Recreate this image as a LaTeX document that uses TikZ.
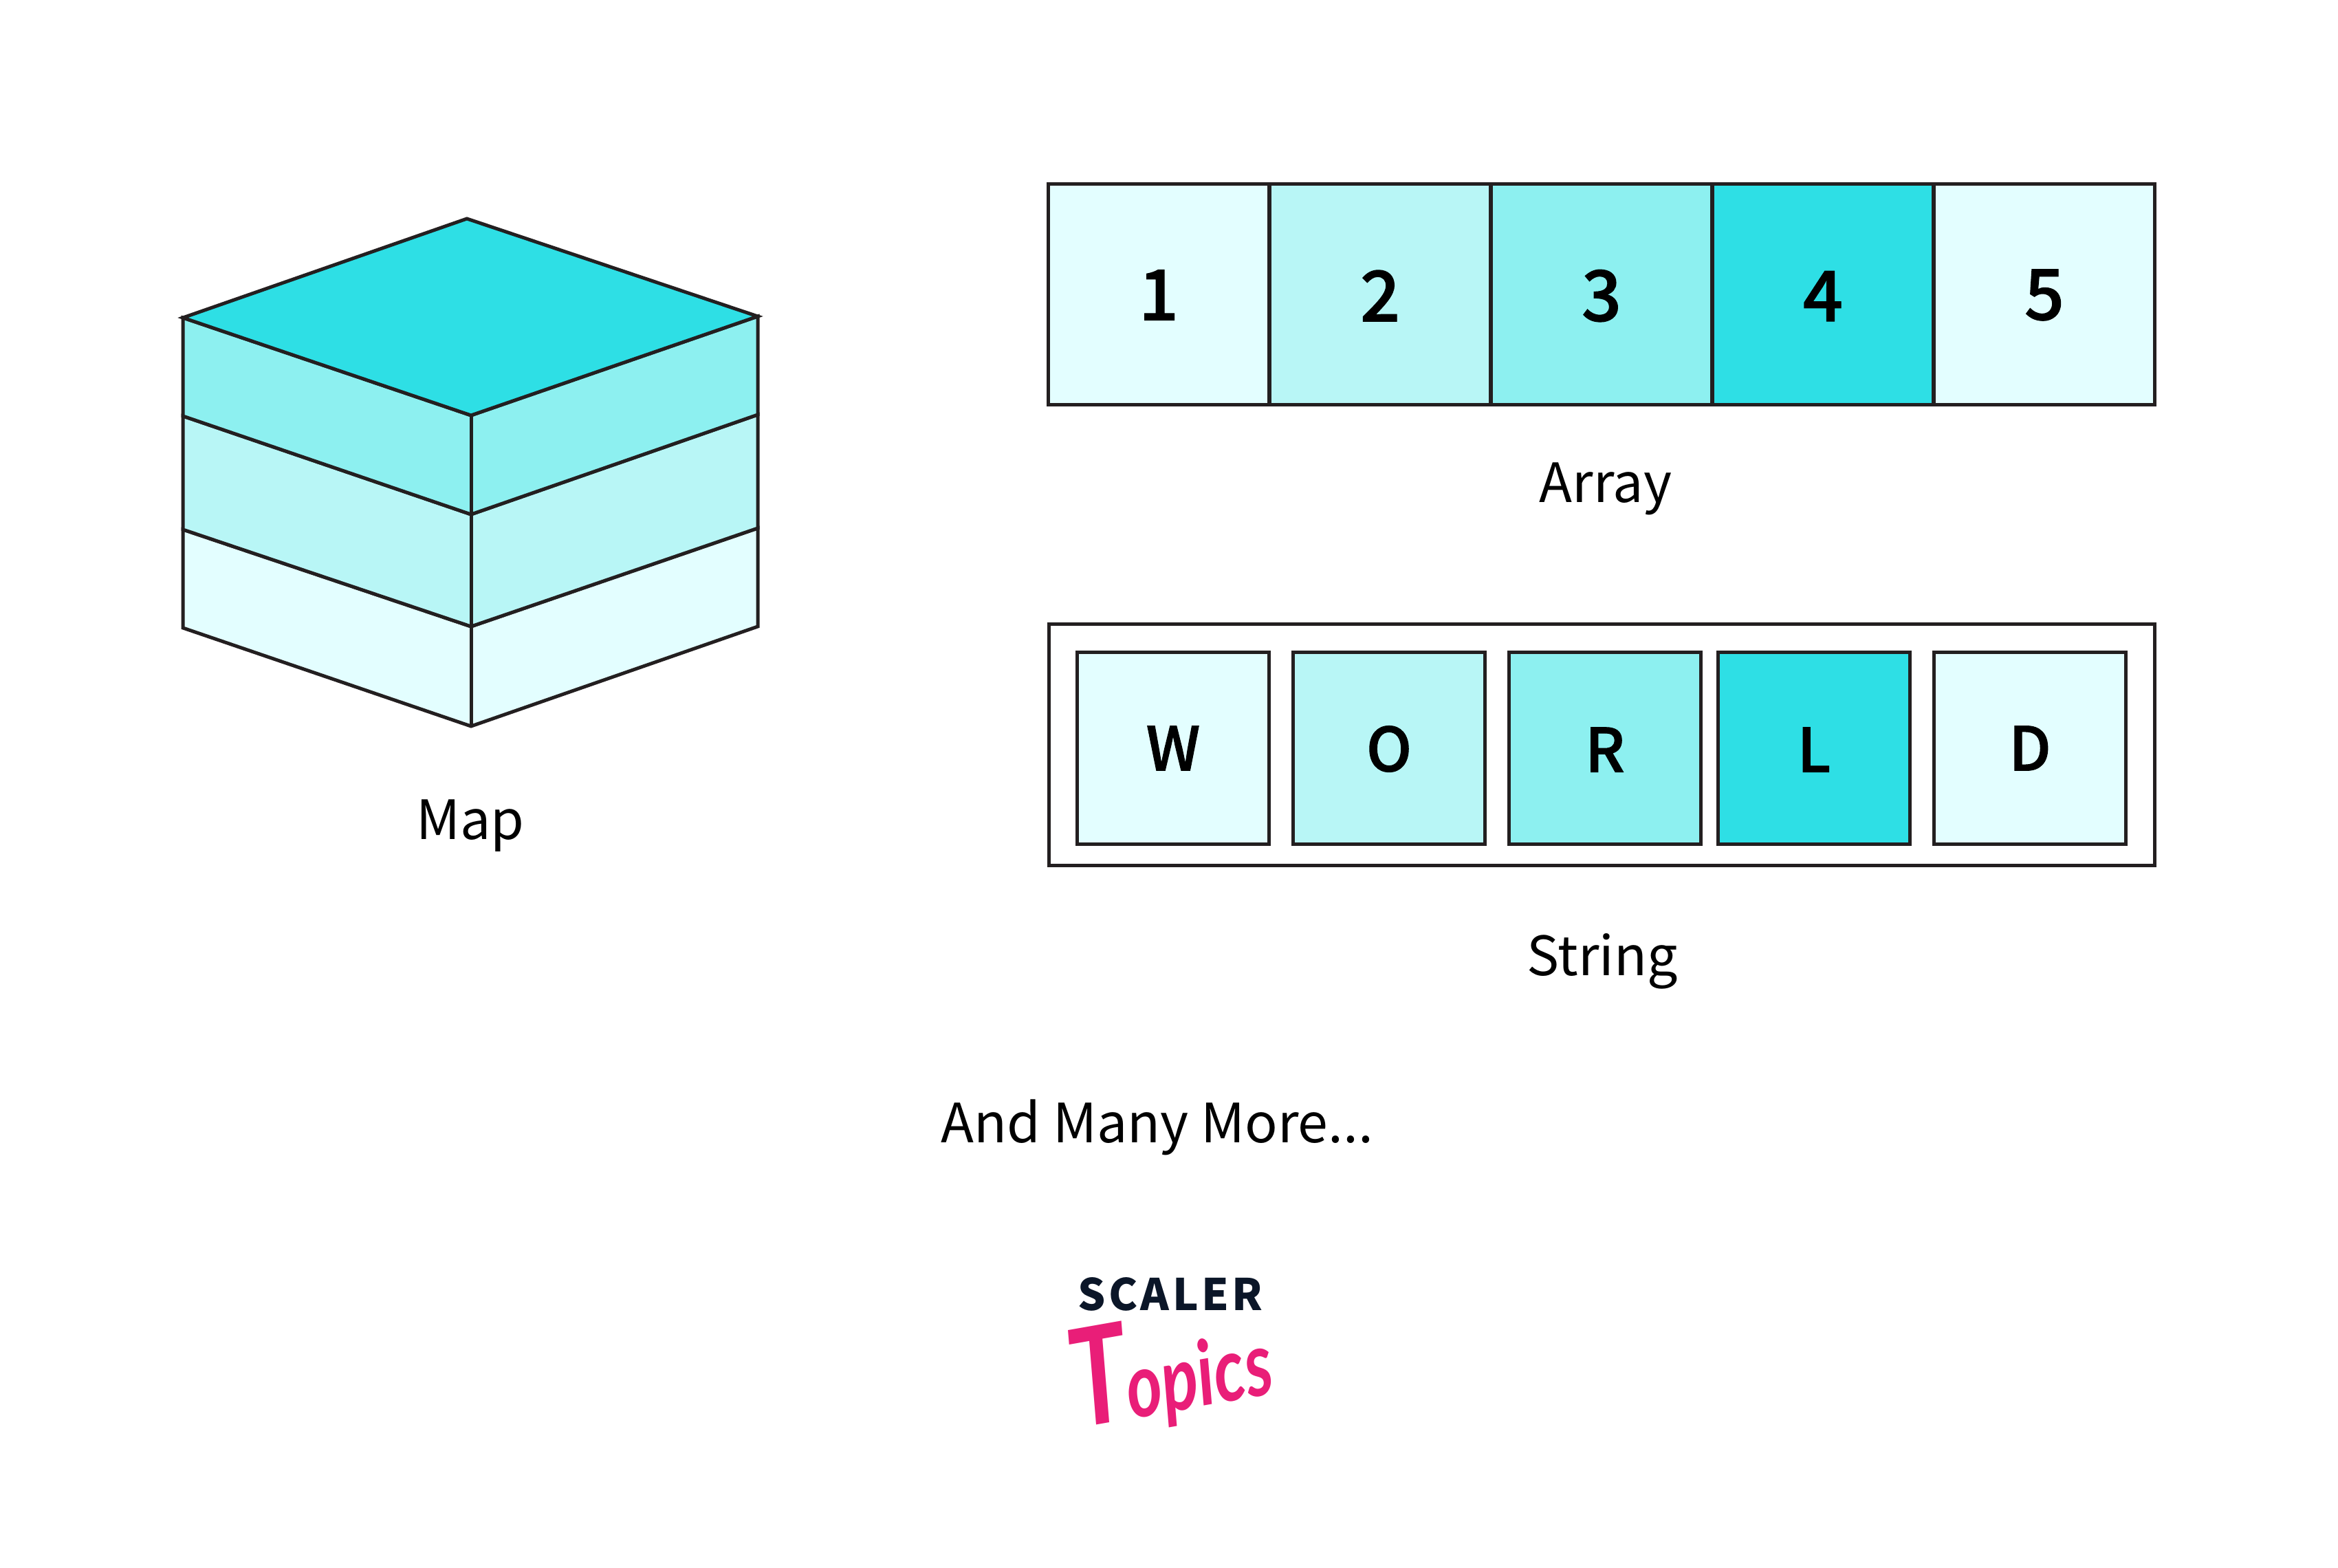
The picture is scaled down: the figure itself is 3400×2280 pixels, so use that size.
\documentclass[tikz,border=0pt]{standalone}
\usepackage{graphicx}
\usepackage{fontspec}
\setmainfont{Noto Sans CJK SC}
\newfontfamily\medf[FakeBold=1.2]{Noto Sans CJK SC Medium}
\newfontfamily\logof{Lato}
\newcommand\lowered[2]{\rlap{\raisebox{-#1}{#2}}\phantom{#2}}
\definecolor{cA}{HTML}{E3FEFF}
\definecolor{cB}{HTML}{B8F6F6}
\definecolor{cC}{HTML}{8DF0F0}
\definecolor{cD}{HTML}{2EDFE5}
\definecolor{ink}{HTML}{231F20}
\definecolor{navy}{HTML}{0B1628}
\definecolor{pinkT}{HTML}{E91E78}
\tikzset{
  px/.style={x=0.01cm,y=-0.01cm},
  face/.style={draw=ink,line width=0.05cm,line join=miter},
  cell/.style={face,minimum width=3.2cm,minimum height=3.2cm,inner sep=0pt,font=\fontsize{29}{29}\selectfont\medf},
  sq/.style={face,minimum width=2.78cm,minimum height=2.78cm,inner sep=0pt,font=\fontsize{25}{25}\selectfont\medf},
  lab/.style={inner sep=0pt,font=\fontsize{22.4}{27}\selectfont},
}
\begin{document}
\begin{tikzpicture}[px]
\useasboundingbox[fill=white] (0,0) rectangle (3400,2280);
% map
\coordinate (A) at (679,318);
\coordinate (L0) at (266,462);
\coordinate (L1) at (266,605);
\coordinate (L2) at (266,770);
\coordinate (L3) at (266,913);
\coordinate (M0) at (685,604);
\coordinate (M1) at (685,748);
\coordinate (M2) at (685,911);
\coordinate (M3) at (685,1056);
\coordinate (R0) at (1102,460);
\coordinate (R1) at (1102,603);
\coordinate (R2) at (1102,768);
\coordinate (R3) at (1102,911);
\draw[face,fill=cA] (L2)--(M2)--(R2)--(R3)--(M3)--(L3)--cycle;
\draw[face,fill=cB] (L1)--(M1)--(R1)--(R2)--(M2)--(L2)--cycle;
\draw[face,fill=cC] (L0)--(M0)--(R0)--(R1)--(M1)--(L1)--cycle;
\draw[face,fill=cD] (A)--(R0)--(M0)--(L0)--cycle;
\draw[face] (M0)--(M3);
\node[lab] (map) at (684,1201) {Map};
% array
\node[cell,fill=cA] (a1) at (1685,428) {\lowered{0.6pt}{1}};
\node[cell,fill=cB] (a2) at (2007,428) {\lowered{1.2pt}{2}};
\node[cell,fill=cC] (a3) at (2329,428) {\lowered{1.2pt}{3}};
\node[cell,fill=cD] (a4) at (2651,428) {\lowered{1.5pt}{4}};
\node[cell,fill=cA] (a5) at (2973,428) {\lowered{0.6pt}{5}};
\node[lab] (arr) at (2335,711) {Array};
% string
\node[face,minimum width=16.07cm,minimum height=3.51cm,inner sep=0pt] (outer) at (2329,1083) {};
\node[sq,fill=cA] (s1) at (1706,1088) {W};
\node[sq,fill=cB] (s2) at (2020,1088) {\lowered{0.6pt}{O}};
\node[sq,fill=cC] (s3) at (2334,1088) {\lowered{1.2pt}{R}};
\node[sq,fill=cD] (s4) at (2638,1088) {\lowered{1.2pt}{L}};
\node[sq,fill=cA] (s5) at (2952,1088) {D};
\node[lab] (str) at (2330,1398) {String};
\node[lab] (more) at (1683,1639) {And Many More...};
% logo
\node[inner sep=0pt,text=navy,font=\fontsize{18}{18}\selectfont\bfseries\addfontfeature{LetterSpace=7}] (sc) at (1702,1882) {SCALER};
\node[inner sep=0pt,text=pinkT,rotate=10] (tp) at (1702,1992) {\scalebox{0.76}[1]{\logof\itshape\bfseries{\fontsize{56}{56}\selectfont T}\kern-2pt\fontsize{37}{37}\selectfont opics}};
\end{tikzpicture}
\end{document}
